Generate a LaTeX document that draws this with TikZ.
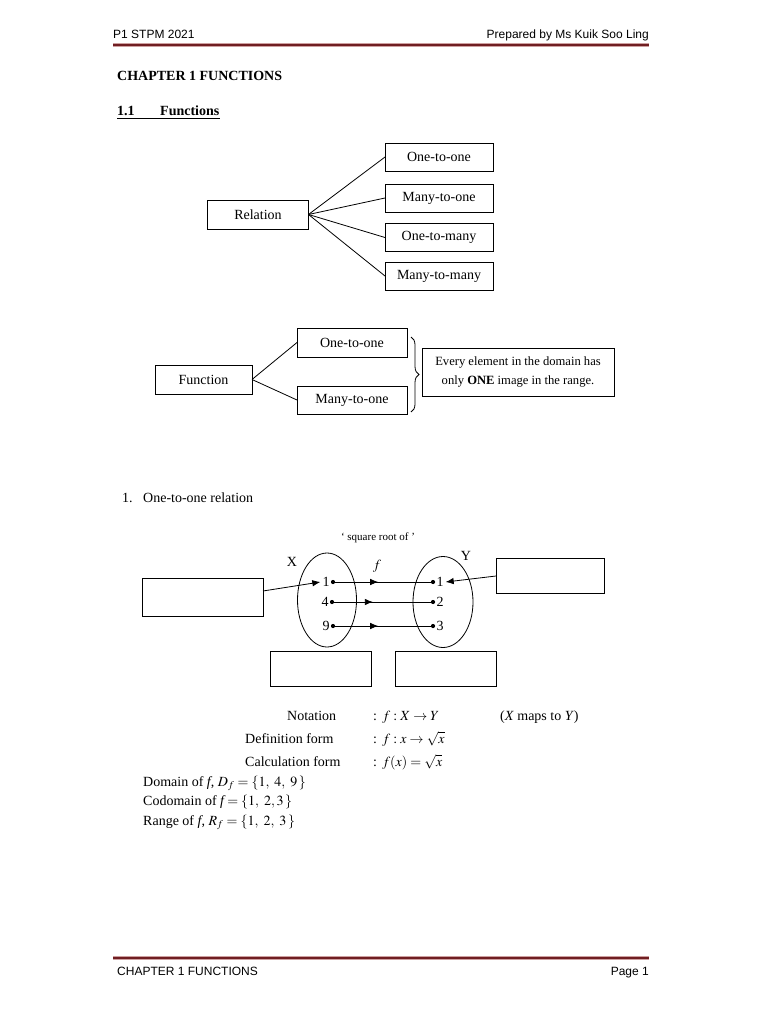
\documentclass[tikz,border=0pt]{standalone}
\usepackage{mathptmx}
\usepackage{fontspec}
\setmainfont{Liberation Serif}
\newfontfamily\hdrfont{Liberation Sans}
\usetikzlibrary{decorations.pathreplacing,decorations.markings,arrows.meta,shapes.geometric}
\definecolor{hdrdark}{RGB}{112,30,34}
\definecolor{hdrlight}{RGB}{205,160,160}
\begin{document}
\begin{tikzpicture}[x=1pt,y=-1pt,
  font=\fontsize{14}{17}\selectfont,
  bx/.style={draw, line width=0.8pt, inner sep=0pt, outer sep=0pt, align=center},
  txt/.style={inner sep=0pt, anchor=base west},
  ln/.style={line width=0.8pt},
  hdr/.style={inner sep=0pt, font=\hdrfont\fontsize{12}{14}\selectfont},
  pt/.style={circle, fill, inner sep=0pt, minimum size=4.2pt},
  midarrow/.style={postaction={decorate}, decoration={markings, mark=at position #1 with {\arrow{Latex[length=8pt,width=6.5pt]}}}},
  tip/.style={-{Latex[length=8pt,width=6.5pt]}}
]
\useasboundingbox (0,0) rectangle (768,1024);
\fill[white] (0,0) rectangle (768,1024);

% header
\node[hdr, anchor=base west] (h1) at (113,38.5) {P1 STPM 2021};
\node[hdr, anchor=base east] (h2) at (649,38.5) {Prepared by Ms Kuik Soo Ling};
\draw[hdrlight, line width=4.4pt] (h1.west |- 0,45) -- (h2.east |- 0,45);
\draw[hdrdark, line width=2.8pt] (h1.west |- 0,45) -- (h2.east |- 0,45);

% titles
\node[txt, font=\fontsize{14}{17}\selectfont\bfseries] (title) at (117,81) {CHAPTER 1 FUNCTIONS};
\node[txt, font=\fontsize{14}{17}\selectfont\bfseries] (s11) at (117,116) {1.1};
\node[txt, font=\fontsize{14}{17}\selectfont\bfseries] (sfn) at (160,116) {Functions};
\draw[line width=0.8pt] ([yshift=-2.5pt]s11.base west) -- ([yshift=-2.5pt]sfn.base east);

% relation tree
\node[bx, minimum width=101, minimum height=29] (rel) at (258,214.5) {Relation};
\node[bx, minimum width=108, minimum height=28] (r1) at (439,157) {One-to-one};
\node[bx, minimum width=108, minimum height=28] (r2) at (439,198) {Many-to-one};
\node[bx, minimum width=108, minimum height=28] (r3) at (439,237.5) {One-to-many};
\node[bx, minimum width=108, minimum height=28] (r4) at (439,276) {Many-to-many};
\foreach \t in {r1,r2,r3,r4} \draw[ln] (rel.east) -- (\t.west);

% function tree
\node[bx, minimum width=97, minimum height=29] (fun) at (203.5,379.5) {Function};
\node[bx, minimum width=110, minimum height=29] (f1) at (352,342.5) {One-to-one};
\node[bx, minimum width=110, minimum height=28] (f2) at (352,400) {Many-to-one};
\draw[ln] (fun.east) -- (f1.west);
\draw[ln] (fun.east) -- (f2.west);
\draw[ln, decorate, decoration={brace, amplitude=8pt}] (411,337) -- (411,412);
\node[bx, minimum width=192, minimum height=48, font=\fontsize{12.6}{19}\selectfont] (tb) at (518,372) {Every element in the domain has\\ only \textbf{ONE} image in the range.};

% section 1
\node[txt] (n1) at (122,502) {1.};
\node[txt] (n1t) at (143,502) {One-to-one relation};

% arrow diagram
\node[inner sep=0pt, font=\fontsize{11}{13}\selectfont] (sq) at (378,538) {‘ square root of ’};
\node[inner sep=0pt] (lX) at (292,562) {X};
\node[inner sep=0pt] (lY) at (466,556) {Y};
\node[inner sep=0pt] (lf) at (377,566) {$f$};
\node[draw, ellipse, ln, minimum width=59, minimum height=94, inner sep=0pt] (ex) at (327,600) {};
\node[draw, ellipse, ln, minimum width=60, minimum height=91, inner sep=0pt] (ey) at (443,602) {};

\node[pt] (x1) at (333,582) {};
\node[pt] (x4) at (332,602) {};
\node[pt] (x9) at (333,626) {};
\node[pt] (y1) at (433,582) {};
\node[pt] (y2) at (433,602) {};
\node[pt] (y3) at (433,626) {};
\node[anchor=east, inner sep=1pt] (lx1) at (x1.west) {1};
\node[anchor=east, inner sep=1pt] (lx4) at (x4.west) {4};
\node[anchor=east, inner sep=1pt] (lx9) at (x9.west) {9};
\node[anchor=west, inner sep=1pt] (ly1) at (y1.east) {1};
\node[anchor=west, inner sep=1pt] (ly2) at (y2.east) {2};
\node[anchor=west, inner sep=1pt] (ly3) at (y3.east) {3};
\draw[ln, midarrow=0.45] (x1) -- (y1);
\draw[ln, midarrow=0.40] (x4) -- (y2);
\draw[ln, midarrow=0.45] (x9) -- (y3);

\node[bx, minimum width=121, minimum height=38] (lb) at (202.5,597) {};
\node[bx, minimum width=108, minimum height=35] (rb) at (550,575.5) {};
\node[bx, minimum width=101, minimum height=35] (bb1) at (320.5,668.5) {};
\node[bx, minimum width=101, minimum height=35] (bb2) at (445.5,668.5) {};
\draw[ln, tip] (lb.east |- 0,591) -- ([xshift=-1pt]lx1.west);
\draw[ln, tip] (rb.west |- 0,576) -- ([xshift=1pt]ly1.east);

% notation
\node[txt] (no) at (287,720) {Notation};
\node[txt] (df) at (245,743) {Definition form};
\node[txt] (cf) at (245,766) {Calculation form};
\node[txt] (c1) at (373,720) {:};
\node[txt] (c2) at (373,743) {:};
\node[txt] (c3) at (373,766) {:};
\node[txt] (m1) at (382,720) {$f:X\to Y$};
\node[txt] (m2) at (382,743) {$f:x\to\sqrt{x}$};
\node[txt] (m3) at (382,766) {$f(x)=\sqrt{x}$};
\node[txt] (mp) at (500,720) {(\textit{X} maps to \textit{Y})};
\node[txt] (dom) at (143,786) {Domain of \textit{f}, $D_f=\{1,\ 4,\ 9\,\}$};
\node[txt] (cod) at (143,805) {Codomain of \textit{f}$\,=\{1,\ 2, 3\,\}$};
\node[txt] (rng) at (143,825) {Range of \textit{f}, $R_f=\{1,\ 2,\ 3\,\}$};

% footer
\draw[hdrlight, line width=4.4pt] (113,958) -- (649,958);
\draw[hdrdark, line width=2.8pt] (113,958) -- (649,958);
\node[hdr, anchor=base west] (ft1) at (117,975.5) {CHAPTER 1 FUNCTIONS};
\node[hdr, anchor=base east] (ft2) at (649,975.5) {Page 1};
\end{tikzpicture}
\end{document}
